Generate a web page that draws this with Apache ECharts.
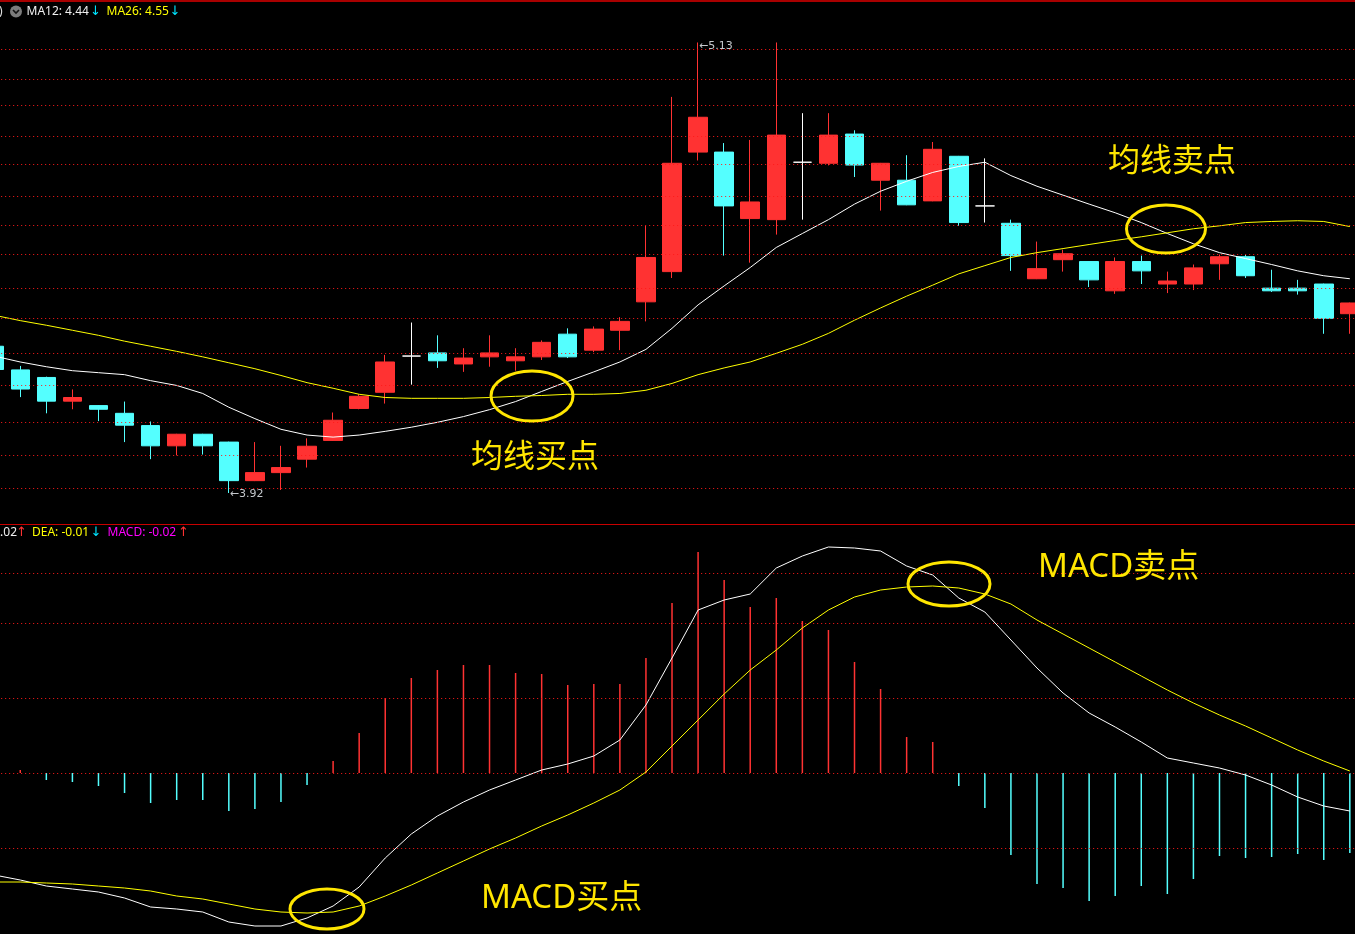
<!DOCTYPE html>
<html><head><meta charset="utf-8">
<style>html,body{margin:0;padding:0;background:#000;overflow:hidden}#c{width:1355px;height:934px}</style>
<script src="https://cdn.jsdelivr.net/npm/echarts@6/dist/echarts.min.js"></script>
</head><body><div id="c"></div>
<script>
const categories = ['D01','D02','D03','D04','D05','D06','D07','D08','D09','D10','D11','D12','D13','D14','D15','D16','D17','D18','D19','D20','D21','D22','D23','D24','D25','D26','D27','D28','D29','D30','D31','D32','D33','D34','D35','D36','D37','D38','D39','D40','D41','D42','D43','D44','D45','D46','D47','D48','D49','D50','D51','D52','D53'];
const openPrice = [4.279,4.219,4.200,4.141,4.130,4.111,4.081,4.032,4.060,4.041,3.949,3.968,4.000,4.045,4.123,4.163,4.254,4.262,4.234,4.252,4.242,4.252,4.310,4.269,4.320,4.394,4.474,4.805,4.805,4.618,4.615,4.776,4.773,4.857,4.725,4.725,4.667,4.793,4.653,4.605,4.455,4.506,4.501,4.423,4.501,4.441,4.441,4.495,4.514,4.430,4.430,4.441,4.363];
const closePrice = [4.220,4.171,4.141,4.150,4.121,4.082,4.032,4.060,4.032,3.949,3.968,3.980,4.031,4.094,4.153,4.239,4.254,4.242,4.249,4.262,4.252,4.289,4.252,4.323,4.343,4.512,4.773,4.906,4.653,4.664,4.854,4.776,4.854,4.768,4.773,4.656,4.813,4.607,4.653,4.517,4.482,4.522,4.452,4.501,4.476,4.449,4.484,4.514,4.463,4.423,4.423,4.351,4.391];
const lowPrice = [4.214,4.151,4.111,4.121,4.092,4.041,4.000,4.009,4.011,3.920,3.948,3.927,3.980,4.044,4.121,4.135,4.182,4.224,4.214,4.227,4.217,4.244,4.249,4.264,4.269,4.343,4.457,4.781,4.517,4.498,4.574,4.615,4.767,4.734,4.640,4.655,4.666,4.598,4.607,4.476,4.454,4.474,4.433,4.415,4.441,4.417,4.425,4.452,4.457,4.420,4.413,4.311,4.311];
const highPrice = [4.289,4.229,4.202,4.170,4.131,4.140,4.091,4.061,4.061,4.042,4.041,4.032,4.050,4.113,4.158,4.257,4.340,4.307,4.274,4.307,4.274,4.294,4.325,4.330,4.354,4.598,4.966,5.130,4.831,4.840,5.130,4.918,4.918,4.868,4.774,4.796,4.834,4.794,4.787,4.615,4.555,4.533,4.502,4.512,4.517,4.474,4.493,4.520,4.520,4.479,4.452,4.442,4.392];
const ma12 = [4.254,4.239,4.227,4.217,4.212,4.207,4.192,4.180,4.160,4.126,4.098,4.072,4.058,4.053,4.058,4.067,4.077,4.089,4.103,4.120,4.140,4.165,4.190,4.214,4.239,4.271,4.325,4.386,4.436,4.485,4.539,4.577,4.615,4.658,4.694,4.722,4.747,4.764,4.776,4.738,4.708,4.683,4.658,4.634,4.607,4.577,4.549,4.525,4.509,4.493,4.476,4.463,4.455];
const ma26 = [4.359,4.345,4.333,4.320,4.307,4.292,4.279,4.266,4.252,4.237,4.222,4.205,4.187,4.173,4.158,4.150,4.148,4.148,4.148,4.150,4.153,4.155,4.158,4.158,4.160,4.168,4.185,4.207,4.224,4.239,4.261,4.284,4.312,4.346,4.378,4.409,4.438,4.468,4.490,4.512,4.525,4.536,4.547,4.558,4.568,4.579,4.590,4.598,4.607,4.610,4.612,4.610,4.596];
const macdBar = [0,0.0012,-0.0028,-0.0036,-0.0052,-0.008,-0.012,-0.0108,-0.0108,-0.0152,-0.0144,-0.0116,-0.0048,0.0048,0.016,0.03,0.038,0.0412,0.0432,0.0432,0.04,0.0396,0.0352,0.0356,0.0356,0.046,0.068,0.0884,0.0772,0.0664,0.07,0.0608,0.0572,0.0444,0.0336,0.0144,0.0124,-0.0052,-0.014,-0.0328,-0.0444,-0.046,-0.0512,-0.0492,-0.0452,-0.0484,-0.0424,-0.0332,-0.034,-0.0336,-0.0324,-0.0348,-0.032];
const dif = [-0.0408,-0.0428,-0.0452,-0.0464,-0.0476,-0.05,-0.0536,-0.0544,-0.0556,-0.0596,-0.0612,-0.0612,-0.058,-0.0532,-0.0456,-0.034,-0.0244,-0.0172,-0.0116,-0.0068,-0.0028,0.0012,0.0036,0.0068,0.0132,0.0272,0.046,0.0652,0.0692,0.0716,0.082,0.0868,0.0904,0.09,0.0888,0.0828,0.0792,0.07,0.0644,0.0532,0.042,0.032,0.024,0.0184,0.0124,0.006,0.004,0.002,-0.0008,-0.0048,-0.0096,-0.0132,-0.0152];
const dea = [-0.0436,-0.0436,-0.044,-0.0444,-0.0452,-0.046,-0.0472,-0.0492,-0.0504,-0.0524,-0.0544,-0.0556,-0.056,-0.0556,-0.0532,-0.0492,-0.0448,-0.04,-0.0352,-0.0304,-0.026,-0.0212,-0.0168,-0.012,-0.0068,0.0004,0.0108,0.0212,0.0316,0.0412,0.0492,0.058,0.0652,0.0704,0.0732,0.0744,0.0748,0.074,0.0716,0.0676,0.0612,0.0556,0.05,0.0444,0.0388,0.0332,0.028,0.0232,0.0188,0.014,0.0092,0.0048,0.0008];
const priceGridLines = [3.926,4.011,4.095,4.179,4.263,4.348,4.432,4.516,4.601,4.685,4.769,4.853,4.938,5.022,5.106];
const macdGridLines = [-0.028,0,0.028,0.056,0.084];
const highMark = {index: 27, value: 5.13};
const lowMark = {index: 9, value: 3.92};

const candleData = openPrice.map((o, i) => [o, closePrice[i], lowPrice[i], highPrice[i]]);

const UP = '#ff3232', DOWN = '#54ffff', GRIDC = '#ff1a1a', YEL = '#ffe600';
const GL = -18.84, GR = -7.87;
const chart = echarts.init(document.getElementById('c'), null, {renderer: 'canvas'});
const gridLineStyle = {color: GRIDC, width: 1, type: [1, 3]};
const legendFont = '12px "Noto Sans", "DejaVu Sans", sans-serif';
const arrowFont = '13px "DejaVu Sans", sans-serif';
const noteFont = '32px "Noto Sans", "Noto Sans CJK SC", sans-serif';
const noteFont2 = '33px "Noto Sans", "Noto Sans CJK SC", sans-serif';

function txt(x, y, text, fill, font, align) {
  return {type: 'text', x: x, y: y, z: 100, silent: true,
    style: {text: text, fill: fill, font: font, align: align || 'left', verticalAlign: 'middle'}};
}
function ell(cx, cy, rx, ry) {
  return {type: 'ellipse', z: 100, silent: true, shape: {cx: cx, cy: cy, rx: rx, ry: ry},
    style: {fill: 'none', stroke: YEL, lineWidth: 3}};
}

const option = {
  backgroundColor: '#000',
  animation: false,
  grid: [
    {left: GL, right: GR, top: 0, height: 524, outerBoundsMode: 'none'},
    {left: GL, right: GR, top: 524, height: 410, outerBoundsMode: 'none'}
  ],
  xAxis: [
    {type: 'category', data: categories, gridIndex: 0, show: false, boundaryGap: true},
    {type: 'category', data: categories, gridIndex: 1, show: false, boundaryGap: true}
  ],
  yAxis: [
    {type: 'log', gridIndex: 0, min: 3.8481, max: 5.2618, show: false, splitLine: {show: false}},
    {type: 'value', gridIndex: 1, min: -0.0644, max: 0.0996, show: false, splitLine: {show: false}}
  ],
  series: [
    {type: 'line', xAxisIndex: 0, yAxisIndex: 0, data: [], z: 1, silent: true,
      markLine: {silent: true, symbol: ['none', 'none'], label: {show: false}, lineStyle: gridLineStyle,
        data: priceGridLines.map(v => ({yAxis: v}))}},
    {type: 'line', xAxisIndex: 1, yAxisIndex: 1, data: [], z: 1, silent: true,
      markLine: {silent: true, symbol: ['none', 'none'], label: {show: false}, lineStyle: gridLineStyle,
        data: macdGridLines.map(v => ({yAxis: v}))}},
    {type: 'candlestick', name: 'K', xAxisIndex: 0, yAxisIndex: 0, data: candleData, barWidth: 19, z: 3,
      itemStyle: {color: UP, color0: DOWN, borderColor: UP, borderColor0: DOWN, borderColorDoji: '#ffffff', borderWidth: 1},
      markPoint: {symbol: 'circle', symbolSize: 0, silent: true,
        label: {show: true, position: 'right', distance: 1, color: '#c4c8cc', fontSize: 11,
          fontFamily: '"DejaVu Sans", sans-serif', formatter: p => '\u2190' + Number(p.value).toFixed(2)},
        data: [
          {coord: [categories[highMark.index], highMark.value], value: highMark.value, label: {offset: [0, 4]}},
          {coord: [categories[lowMark.index], lowMark.value], value: lowMark.value, label: {offset: [0, 1]}}
        ]}},
    {type: 'line', name: 'MA12', xAxisIndex: 0, yAxisIndex: 0, data: ma12, z: 4, symbol: 'none', silent: true,
      lineStyle: {color: '#ffffff', width: 1}},
    {type: 'line', name: 'MA26', xAxisIndex: 0, yAxisIndex: 0, data: ma26, z: 4, symbol: 'none', silent: true,
      lineStyle: {color: '#ffff00', width: 1}},
    {type: 'bar', name: 'MACD', xAxisIndex: 1, yAxisIndex: 1, data: macdBar, barWidth: 1.5, z: 3, silent: true,
      itemStyle: {color: p => (p.value >= 0 ? UP : DOWN)}},
    {type: 'line', name: 'DIF', xAxisIndex: 1, yAxisIndex: 1, data: dif, z: 4, symbol: 'none', silent: true,
      lineStyle: {color: '#ffffff', width: 1}},
    {type: 'line', name: 'DEA', xAxisIndex: 1, yAxisIndex: 1, data: dea, z: 4, symbol: 'none', silent: true,
      lineStyle: {color: '#ffff00', width: 1}}
  ],
  graphic: [
    {type: 'rect', z: 90, silent: true, shape: {x: 0, y: 0, width: 1355, height: 2}, style: {fill: '#a80000'}},
    {type: 'rect', z: 90, silent: true, shape: {x: 0, y: 524, width: 1355, height: 1}, style: {fill: '#c80000'}},
    txt(-1, 11.5, ')', '#e0e0e0', legendFont),
    {type: 'circle', z: 100, silent: true, shape: {cx: 16, cy: 11.5, r: 6}, style: {fill: '#7c7c7c'}},
    {type: 'polyline', z: 101, silent: true, shape: {points: [[13, 10], [16, 13], [19, 10]]}, style: {stroke: '#111', lineWidth: 1.6, fill: 'none'}},
    txt(26.5, 11.5, 'MA12: 4.44', '#f0f0f0', legendFont),
    txt(95.5, 11.5, '\u2193', '#00e5ff', arrowFont, 'center'),
    txt(106.5, 11.5, 'MA26: 4.55', '#ffff00', legendFont),
    txt(175, 11.5, '\u2193', '#00e5ff', arrowFont, 'center'),
    txt(17, 533, 'DIF: -0.02', '#f0f0f0', legendFont, 'right'),
    txt(21.5, 533, '\u2191', '#ff3232', arrowFont, 'center'),
    txt(32, 533, 'DEA: -0.01', '#ffff00', legendFont),
    txt(96, 533, '\u2193', '#00e5ff', arrowFont, 'center'),
    txt(107.5, 533, 'MACD: -0.02', '#ff00ff', legendFont),
    txt(183.5, 533, '\u2191', '#ff3232', arrowFont, 'center'),
    ell(532, 396, 41, 25),
    ell(1166, 229, 39.5, 24),
    ell(949, 584, 41, 22),
    ell(327, 909, 37, 20),
    txt(471, 458, '均线买点', YEL, noteFont),
    txt(1108, 162, '均线卖点', YEL, noteFont),
    txt(1038, 568, 'MACD卖点', YEL, noteFont2),
    txt(481, 899, 'MACD买点', YEL, noteFont2)
  ]
};
chart.setOption(option);
</script>
</body></html>
